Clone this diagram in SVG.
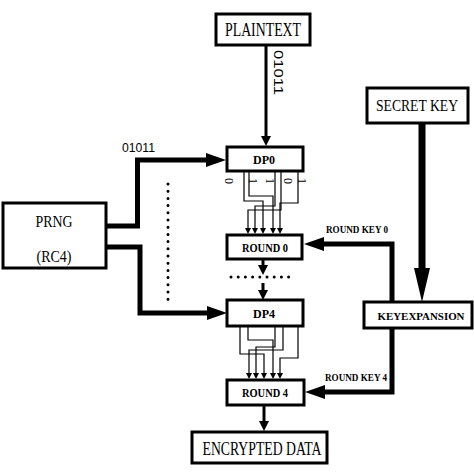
<svg xmlns="http://www.w3.org/2000/svg" width="474" height="474" viewBox="0 0 474 474">
<style>
.box{fill:#fff;stroke:#000;stroke-width:3}
.t{font-family:'Liberation Serif','DejaVu Serif',serif;fill:#000;text-anchor:middle}
.b{font-weight:bold}
.s{font-family:'Liberation Sans','DejaVu Sans',sans-serif;fill:#000}
.thick{fill:none;stroke:#000;stroke-width:5}
.med{fill:none;stroke:#000;stroke-width:3}
.wire{fill:none;stroke:#000;stroke-width:1.2}
.dot{fill:none;stroke:#000;stroke-width:3;stroke-linecap:round;stroke-dasharray:0 7.2}
</style>
<defs>
<marker id="big" markerUnits="userSpaceOnUse" markerWidth="20" markerHeight="14" refX="0" refY="7" orient="auto">
<path d="M0,0 L20,7 L0,14 z" fill="#000"/>
</marker>
<marker id="key" markerUnits="userSpaceOnUse" markerWidth="34" markerHeight="16" refX="0" refY="8" orient="auto">
<path d="M0,0 L34,8 L0,16 z" fill="#000"/>
</marker>
<marker id="mid" markerUnits="userSpaceOnUse" markerWidth="10" markerHeight="10" refX="0" refY="5" orient="auto">
<path d="M0,0 L10,5 L0,10 z" fill="#000"/>
</marker>
<marker id="sm" markerUnits="userSpaceOnUse" markerWidth="6" markerHeight="6" refX="0" refY="3" orient="auto">
<path d="M0,0 L6,3 L0,6 z" fill="#000"/>
</marker>
</defs>

<g id="connectors">
<line class="med" x1="266" y1="45" x2="266" y2="136" marker-end="url(#mid)"/>
<text class="s" font-size="12" transform="translate(274,50) rotate(90)" textLength="45" lengthAdjust="spacingAndGlyphs">01011</text>
<polyline class="thick" points="106,226 137.5,226 137.5,160 206,160" marker-end="url(#big)"/>
<text class="s" font-size="12" x="122" y="152" textLength="33" lengthAdjust="spacingAndGlyphs">01011</text>
<polyline class="thick" points="106,247 140,247 140,313 207,313" marker-end="url(#big)"/>
<line class="dot" x1="168" y1="184" x2="168" y2="300"/>
<line x1="422" y1="123" x2="422" y2="268" stroke="#000" stroke-width="7" marker-end="url(#key)"/>
<polyline class="thick" points="392,302 392,244 324,244" marker-end="url(#big)"/>
<text class="t b" font-size="10" x="357" y="233" textLength="62" lengthAdjust="spacingAndGlyphs">ROUND KEY 0</text>
<polyline class="thick" points="392,328 392,392 325,392" marker-end="url(#big)"/>
<text class="t b" font-size="10" x="356" y="381" textLength="62" lengthAdjust="spacingAndGlyphs">ROUND KEY 4</text>
<g class="t" font-size="12">
<text transform="translate(225,181) rotate(90)">0</text>
<text transform="translate(249,181) rotate(90)">1</text>
<text transform="translate(266,181) rotate(90)">1</text>
<text transform="translate(284,181) rotate(90)">0</text>
<text transform="translate(298,181) rotate(90)">1</text>
</g>
<polyline class="wire" points="244,172 244,201 263,201 263,228" marker-end="url(#sm)"/>
<polyline class="wire" points="249,172 249,196 273,196 273,228" marker-end="url(#sm)"/>
<polyline class="wire" points="275,172 275,206 255,206 255,228" marker-end="url(#sm)"/>
<polyline class="wire" points="298,172 298,203 280,203 280,228" marker-end="url(#sm)"/>
<polyline class="wire" points="281,172 281,210 248,210 248,228" marker-end="url(#sm)"/>
<line class="med" x1="263" y1="259" x2="263" y2="265" marker-end="url(#mid)"/>
<line class="dot" x1="231" y1="277" x2="290" y2="277"/>
<line class="med" x1="263" y1="283" x2="263" y2="290" marker-end="url(#mid)"/>
<polyline class="wire" points="240,326 240,354 264,354 264,373" marker-end="url(#sm)"/>
<polyline class="wire" points="248,326 248,340 273,340 273,373" marker-end="url(#sm)"/>
<polyline class="wire" points="275,326 275,347 256,347 256,373" marker-end="url(#sm)"/>
<polyline class="wire" points="298,326 298,358 280,358 280,373" marker-end="url(#sm)"/>
<polyline class="wire" points="283,326 283,350 249,350 249,373" marker-end="url(#sm)"/>
<line class="med" x1="264" y1="405" x2="264" y2="421" marker-end="url(#mid)"/>
</g>

<g id="plaintext">
<rect class="box" x="216" y="14" width="94" height="31"/>
<text class="t" font-size="18" x="263" y="36" textLength="76" lengthAdjust="spacingAndGlyphs">PLAINTEXT</text>
</g>
<g id="dp0">
<rect class="box" x="227" y="147" width="76" height="24"/>
<text class="t b" font-size="12" x="264" y="164" textLength="22" lengthAdjust="spacingAndGlyphs">DP0</text>
</g>
<g id="round0">
<rect class="box" x="227" y="235" width="75" height="24"/>
<text class="t b" font-size="12" x="265" y="252" textLength="46" lengthAdjust="spacingAndGlyphs">ROUND 0</text>
</g>
<g id="dp4">
<rect class="box" x="227" y="300" width="76" height="26"/>
<text class="t b" font-size="12" x="264" y="318" textLength="22" lengthAdjust="spacingAndGlyphs">DP4</text>
</g>
<g id="round4">
<rect class="box" x="227" y="380" width="77" height="25"/>
<text class="t b" font-size="12" x="265" y="397" textLength="46" lengthAdjust="spacingAndGlyphs">ROUND 4</text>
</g>
<g id="encrypted">
<rect class="box" x="192" y="432" width="135" height="31"/>
<text class="t" font-size="18" x="262" y="455" textLength="119" lengthAdjust="spacingAndGlyphs">ENCRYPTED DATA</text>
</g>
<g id="prng">
<rect class="box" x="3" y="203" width="103" height="65"/>
<text class="t" font-size="17" x="54" y="227" textLength="37" lengthAdjust="spacingAndGlyphs">PRNG</text>
<text class="t" font-size="17" x="54" y="262" textLength="35" lengthAdjust="spacingAndGlyphs">(RC4)</text>
</g>
<g id="secretkey">
<rect class="box" x="367" y="88" width="101" height="35"/>
<text class="t" font-size="16" x="417" y="111" textLength="82" lengthAdjust="spacingAndGlyphs">SECRET KEY</text>
</g>
<g id="keyexpansion">
<rect class="box" x="364" y="302" width="108" height="26"/>
<text class="t b" font-size="11" x="421" y="320" textLength="87" lengthAdjust="spacingAndGlyphs">KEYEXPANSION</text>
</g>
</svg>
